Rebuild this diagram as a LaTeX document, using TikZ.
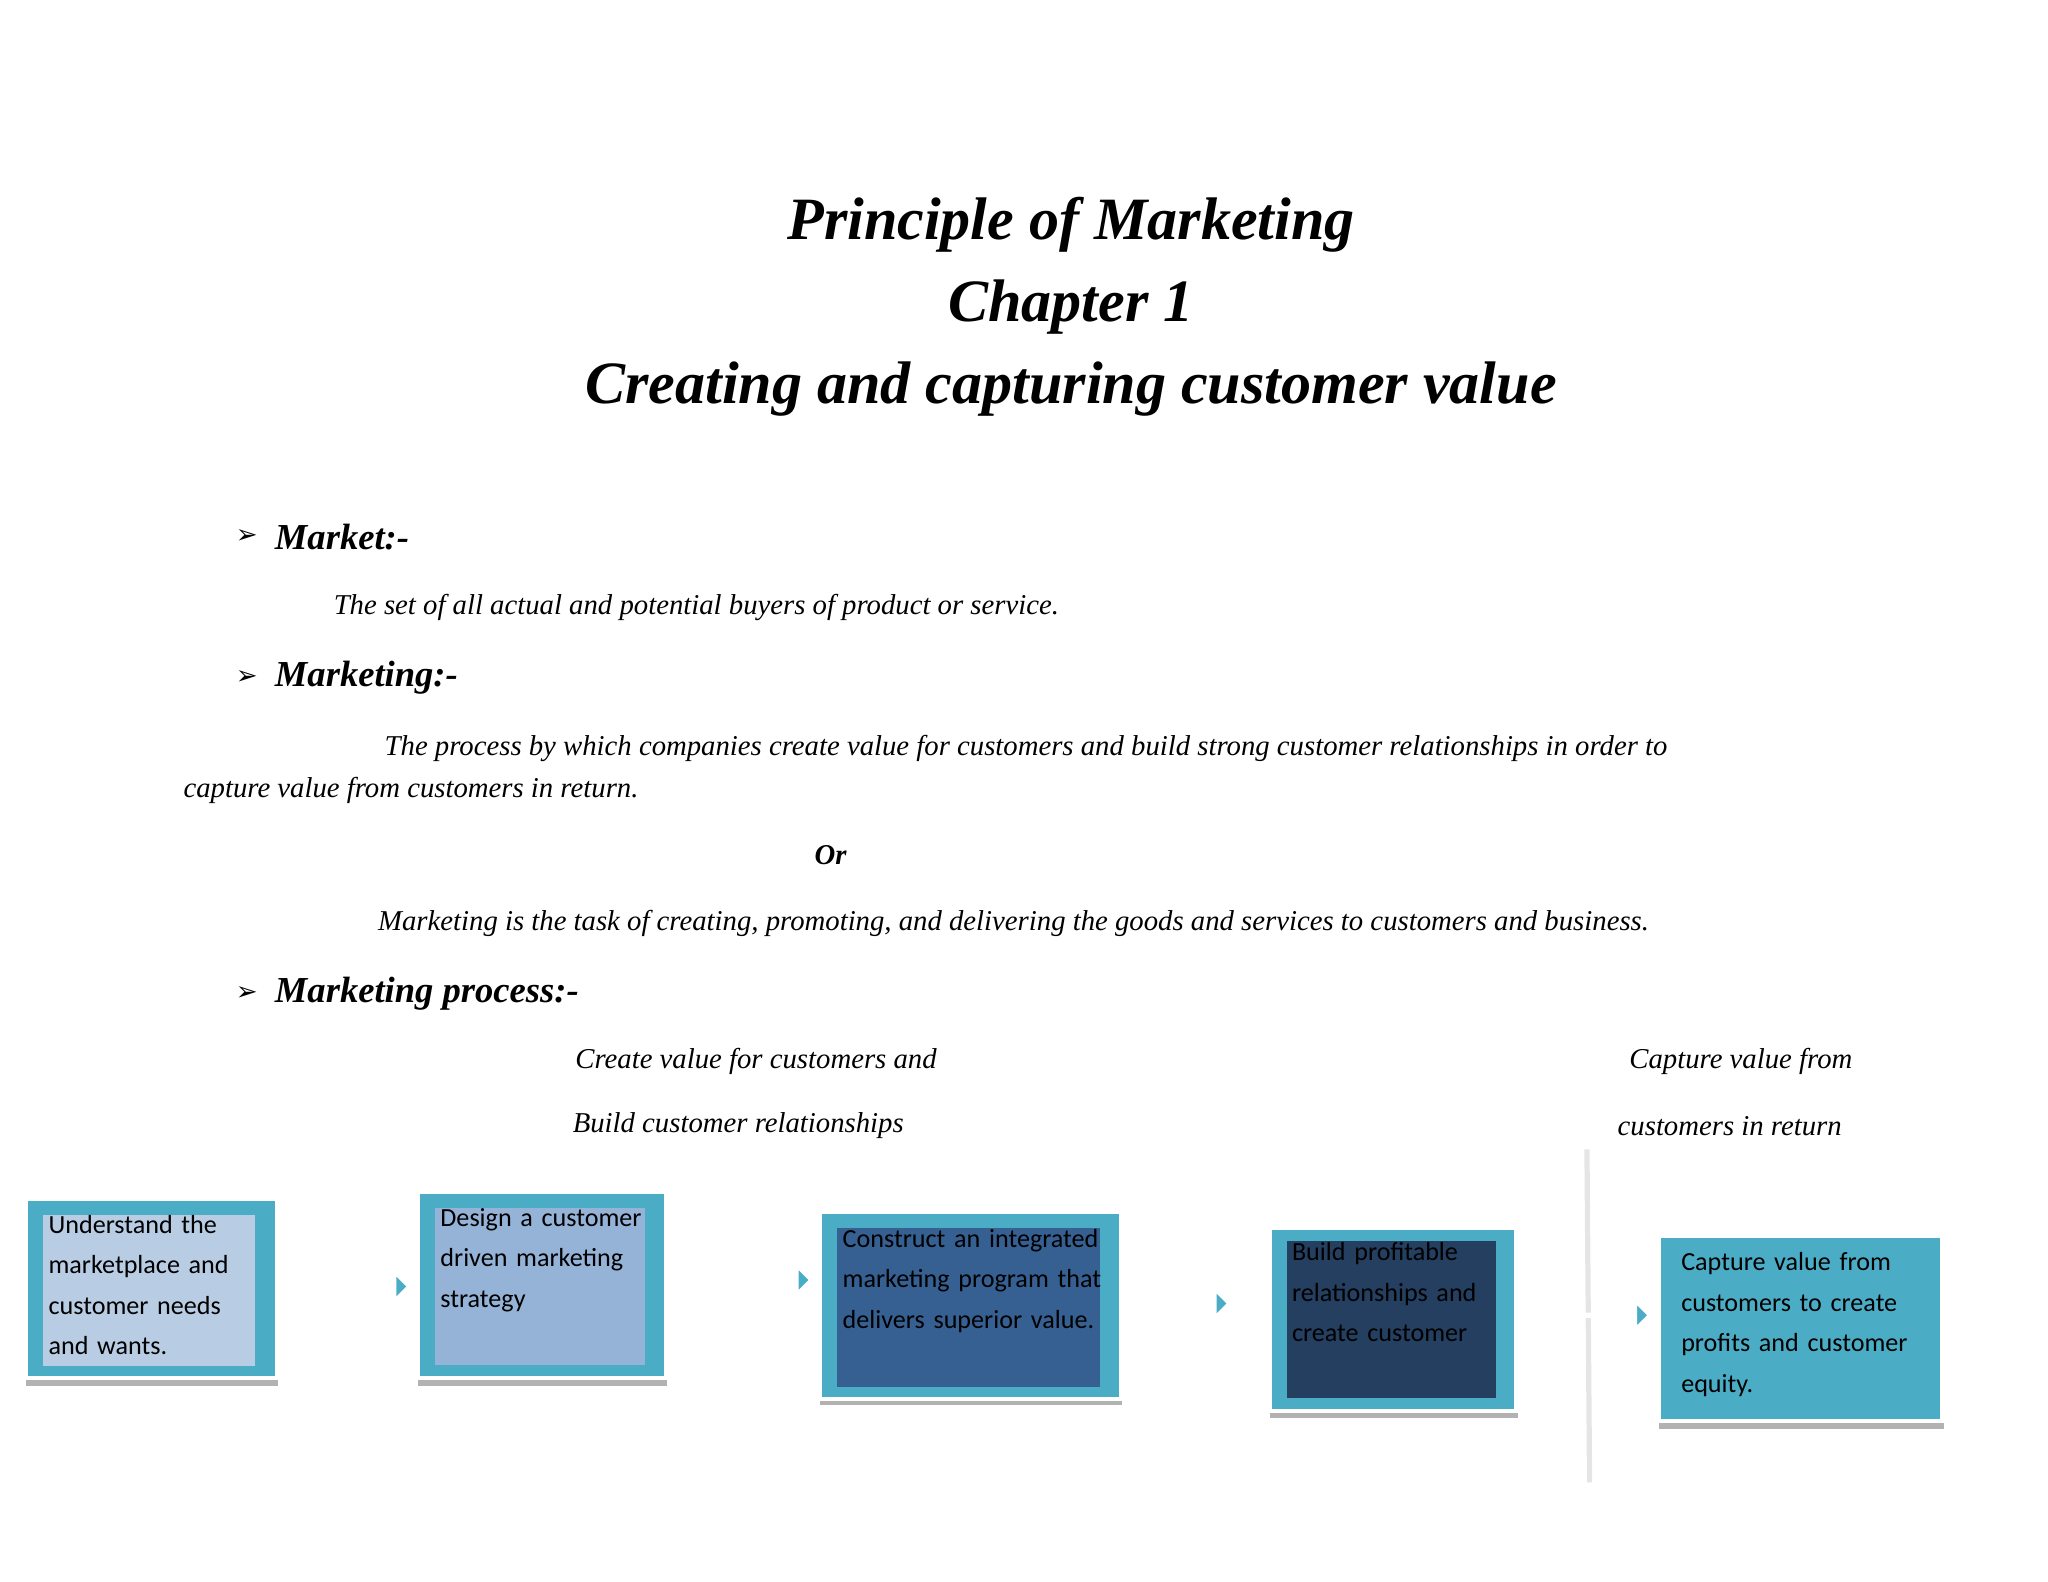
\documentclass[tikz,border=0pt]{standalone}
\usepackage{fontspec}
\setmainfont{Liberation Serif}
\newfontfamily\boxfont{Carlito}
\newfontfamily\symfont{DejaVu Sans}
\usetikzlibrary{shapes.arrows}
\definecolor{aqua}{HTML}{4BACC6}
\definecolor{cA}{HTML}{B8CCE4}
\definecolor{cB}{HTML}{95B3D7}
\definecolor{cC}{HTML}{366092}
\definecolor{cD}{HTML}{243F60}
\begin{document}
\begin{tikzpicture}[x=1pt,y=-1pt,
  ttl/.style={font=\fontsize{46}{50}\selectfont\bfseries\itshape},
  hd/.style={font=\fontsize{28}{32}\selectfont\bfseries\itshape,anchor=west},
  bd/.style={font=\fontsize{22}{26}\selectfont\itshape,anchor=west},
  bullet/.style={font=\fontsize{20}{24}\symfont,anchor=center},
  frame/.style={fill=aqua,draw=white,line width=3pt},
  shadow/.style={fill=gray!60},
  inner/.style={anchor=north west,inner sep=4pt,align=left,text width=#1,font=\fontsize{20}{31}\boxfont},
  arr/.style={single arrow,fill=aqua,draw=white,line width=2pt,single arrow head extend=9pt,minimum height=#1,minimum width=20pt,inner sep=0pt}]
\useasboundingbox (0,0) rectangle (1568,1211);
\node[ttl] (t1) at (820,172) {Principle of Marketing};
\node[ttl] (t2) at (820,235) {Chapter 1};
\node[ttl] (t3) at (820,298) {Creating and capturing customer value};
\node[bullet] (b1) at (189,411) {➢};
\node[hd] (h1) at (207,411) {Market:-};
\node[bd] (p1) at (252,465) {The set of all actual and potential buyers of product or service.};
\node[bullet] (b2) at (189,519) {➢};
\node[hd] (h2) at (207,519) {Marketing:-};
\node[bd] (p2) at (291,573) {The process by which companies create value for customers and build strong customer relationships in order to};
\node[bd] (p3) at (137,605) {capture value from customers in return.};
\node[font=\fontsize{22}{26}\selectfont\bfseries\itshape] (or) at (636,655) {Or};
\node[bd] (p4) at (286,707) {Marketing is the task of creating, promoting, and delivering the goods and services to customers and business.};
\node[bullet] (b3) at (189,761) {➢};
\node[hd] (h3) at (207,761) {Marketing process:-};
\node[bd] (c1) at (437,813) {Create value for customers and};
\node[bd] (c2) at (435,862) {Build customer relationships};
\node[bd] (c3) at (1244,813) {Capture value from};
\node[bd] (c4) at (1235,862) {customers in return};
% vertical line
\coordinate (vt) at (1215,880); \coordinate (vb) at (1217,1135);
\draw[gray!20,line width=4pt] (vt) -- (vb);
% boxes
\fill[shadow] (20,1052) rectangle (213,1061);
\draw[frame] (20,918) rectangle (212,1055);
\fill[cA] (33,930) rectangle (195,1046);
\node[inner=155pt] (n1) at (33,926) {Understand the marketplace and customer needs and wants.};
\fill[shadow] (320,1052) rectangle (511,1061);
\draw[frame] (320,913) rectangle (510,1055);
\fill[cB] (333,925) rectangle (494,1045);
\node[inner=155pt] (n2) at (333,921) {Design a customer driven marketing strategy};
\fill[shadow] (628,1068) rectangle (859,1076);
\draw[frame] (628,928) rectangle (858,1071);
\fill[cC] (641,940) rectangle (842,1062);
\node[inner=200pt] (n3) at (641,937) {Construct an integrated marketing program that delivers superior value.};
\fill[shadow] (972,1078) rectangle (1162,1086);
\draw[frame] (972,940) rectangle (1161,1080);
\fill[cD] (985,950) rectangle (1145,1070);
\node[inner=160pt] (n4) at (985,947) {Build profitable relationships and create customer};
\fill[shadow] (1270,1086) rectangle (1488,1094);
\draw[frame] (1270,946) rectangle (1487,1088);
\node[inner=200pt] (n5) at (1283,955) {Capture value from customers to create profits and customer equity.};
% arrows
\node[arr=82pt] (a1) at (271,985) {};
\node[arr=88pt] (a2) at (576,980) {};
\node[arr=72pt] (a3) at (904,998) {};
\node[arr=84pt] (a4) at (1220,1007) {};
\end{tikzpicture}
\end{document}
